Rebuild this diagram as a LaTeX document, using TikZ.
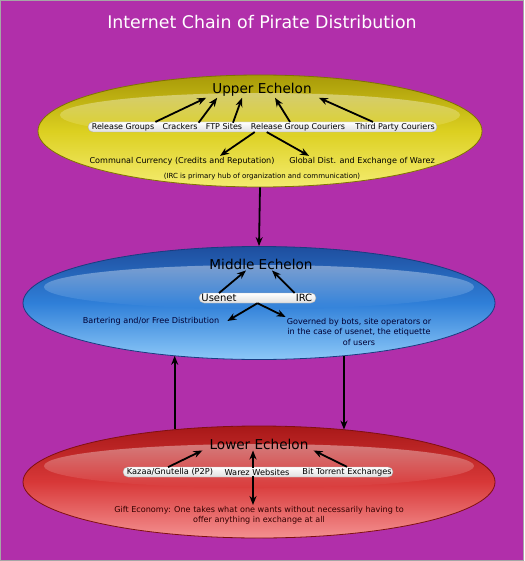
\documentclass[tikz,border=0pt]{standalone}
\usepackage{fontspec}
\setmainfont{DejaVu Sans}
\usetikzlibrary{shapes.geometric,arrows.meta}

\definecolor{bgpurple}{HTML}{B12FAA}
% yellow
\definecolor{yrim}{HTML}{7F7400}
\definecolor{ytop}{HTML}{A89A08}
\definecolor{ymid}{HTML}{DCD020}
\definecolor{ybot}{HTML}{F4EC70}
% blue
\definecolor{brim}{HTML}{1A3C80}
\definecolor{btop}{HTML}{1E4E9E}
\definecolor{bmid}{HTML}{2F7FD8}
\definecolor{bbot}{HTML}{8CC8F8}
% red
\definecolor{rrim}{HTML}{801010}
\definecolor{rtop}{HTML}{A81818}
\definecolor{rmid}{HTML}{D83838}
\definecolor{rbot}{HTML}{F49090}

\tikzset{
  echelon/.style={ellipse, inner sep=0pt, line width=0.8pt},
  gloss/.style 2 args={path picture={
      \node[ellipse, inner sep=0pt, minimum width=#1, minimum height=44pt,
            top color=white, bottom color=#2, fill opacity=.4]
        at ([yshift=16pt]path picture bounding box.center) {};}},
  bar/.style={draw=gray!60, rounded corners=5pt, top color=white,
              bottom color=gray!25, inner sep=0pt, minimum height=10pt},
  heading/.style={font=\fontsize{13.6}{15}\selectfont, inner sep=1pt},
  item/.style={font=\fontsize{8}{9}\selectfont, inner sep=1pt},
  note/.style={font=\fontsize{8.1}{10.5}\selectfont, inner sep=1pt, align=center},
  link/.style={-{Stealth[length=9pt,width=7pt]}, line width=1.8pt},
}

\begin{document}
\begin{tikzpicture}[x=1pt, y=-1pt]
  \fill[bgpurple] (0,0) rectangle (524,561);
  \draw[gray!70, line width=1pt] (0.5,0.5) rectangle (523.5,560.5);
  \node[white, font=\fontsize{17.4}{19}\selectfont] (title) at (262,22)
    {Internet Chain of Pirate Distribution};

  % ellipses
  \node[echelon, minimum width=444pt, minimum height=112pt, draw=yrim,
        top color=ytop, bottom color=ybot, middle color=ymid,
        gloss={400pt}{ymid}] (upper) at (260,131) {};
  \node[echelon, minimum width=472pt, minimum height=113pt, draw=brim,
        top color=btop, bottom color=bbot, middle color=bmid,
        gloss={430pt}{bmid}] (middle) at (259,303) {};
  \node[echelon, minimum width=472pt, minimum height=112pt, draw=rrim,
        top color=rtop, bottom color=rbot, middle color=rmid,
        gloss={430pt}{rmid}] (lower) at (259,482) {};

  % upper echelon
  \node[heading] (uptitle) at (262,90) {Upper Echelon};
  \node[bar, minimum width=349pt] (upbar) at (262.5,127) {};
  \node[item] (relgrp) at (123,127) {Release Groups};
  \node[item] (crack) at (180,127) {Crackers};
  \node[item] (ftp) at (224,127) {FTP Sites};
  \node[item] (rgcour) at (298,127) {Release Group Couriers};
  \node[item] (tpcour) at (395,127) {Third Party Couriers};
  \node[note] (commcur) at (182,161) {Communal Currency (Credits and Reputation)};
  \node[note] (global) at (362,161) {Global Dist. and Exchange of Warez};
  \node[note, font=\fontsize{7}{8}\selectfont] (irchub) at (262,177)
    {(IRC is primary hub of organization and communication)};
  \draw[link] (relgrp.north east) -- ([xshift=-5pt]uptitle.south west);
  \draw[link] (crack.north east) -- ([xshift=6pt]uptitle.south west);
  \draw[link] ([xshift=9pt]ftp.north) -- ([xshift=-20pt]uptitle.south);
  \draw[link] ([xshift=-8pt]rgcour.north) -- ([xshift=13pt]uptitle.south);
  \draw[link] ([xshift=-22pt]tpcour.north) -- ([xshift=6pt]uptitle.south east);
  \draw[link] ([xshift=5pt]rgcour.south west) -- ([xshift=38pt]commcur.north);
  \draw[link] ([xshift=17pt]rgcour.south west) -- ([xshift=21pt]global.north west);

  % middle echelon
  \node[heading] (midtitle) at (261,264) {Middle Echelon};
  \node[bar, minimum width=117pt] (midbar) at (257.5,298) {};
  \node[item, font=\fontsize{10}{11}\selectfont] (usenet) at (219,298) {Usenet};
  \node[item, font=\fontsize{10}{11}\selectfont] (irc) at (304,298) {IRC};
  \node[note, text=black!80!blue] (barter) at (151,321) {Bartering and/or Free Distribution};
  \node[note, text=black!80!blue, anchor=north] (governed) at (359,317)
    {Governed by bots, site operators or\\in the case of usenet, the etiquette\\of users};
  \draw[link] (usenet.north) -- ([xshift=-15pt]midtitle.south);
  \draw[link] (irc.north west) -- ([xshift=11pt]midtitle.south);
  \draw[link] (midbar.south) -- ([xshift=7pt]barter.east);
  \draw[link] (midbar.south) -- (governed.north west);

  % lower echelon
  \node[heading] (lowtitle) at (259,444) {Lower Echelon};
  \node[bar, minimum width=270pt] (lowbar) at (258,472) {};
  \node[item, font=\fontsize{8.2}{9}\selectfont] (kazaa) at (170,472) {Kazaa/Gnutella (P2P)};
  \node[item, font=\fontsize{8.2}{9}\selectfont] (warez) at (257,472) {Warez Websites};
  \node[item, font=\fontsize{8.2}{9}\selectfont] (bittor) at (347,472) {Bit Torrent Exchanges};
  \node[note, text=black!80!red, anchor=north] (gift) at (259,505)
    {Gift Economy: One takes what one wants without necessarily having to\\offer anything in exchange at all};
  \draw[link] ([xshift=-2pt]kazaa.north) -- ([xshift=-6pt]lowtitle.south west);
  \draw[link] ([xshift=-4pt]warez.north) -- ([xshift=-6pt]lowtitle.south);
  \draw[link] ([xshift=-4pt]warez.south) -- ([xshift=-6pt]gift.north);
  \draw[link] (bittor.north) -- ([xshift=4pt]lowtitle.south east);

  % between levels
  \draw[link] (upper.south) -- (middle.north);
  \draw[link] (lower.148.8) -- (middle.211.6 -| lower.148.8);
  \draw[link] (middle.328.4) -- (lower.31.2 -| middle.328.4);
\end{tikzpicture}
\end{document}
